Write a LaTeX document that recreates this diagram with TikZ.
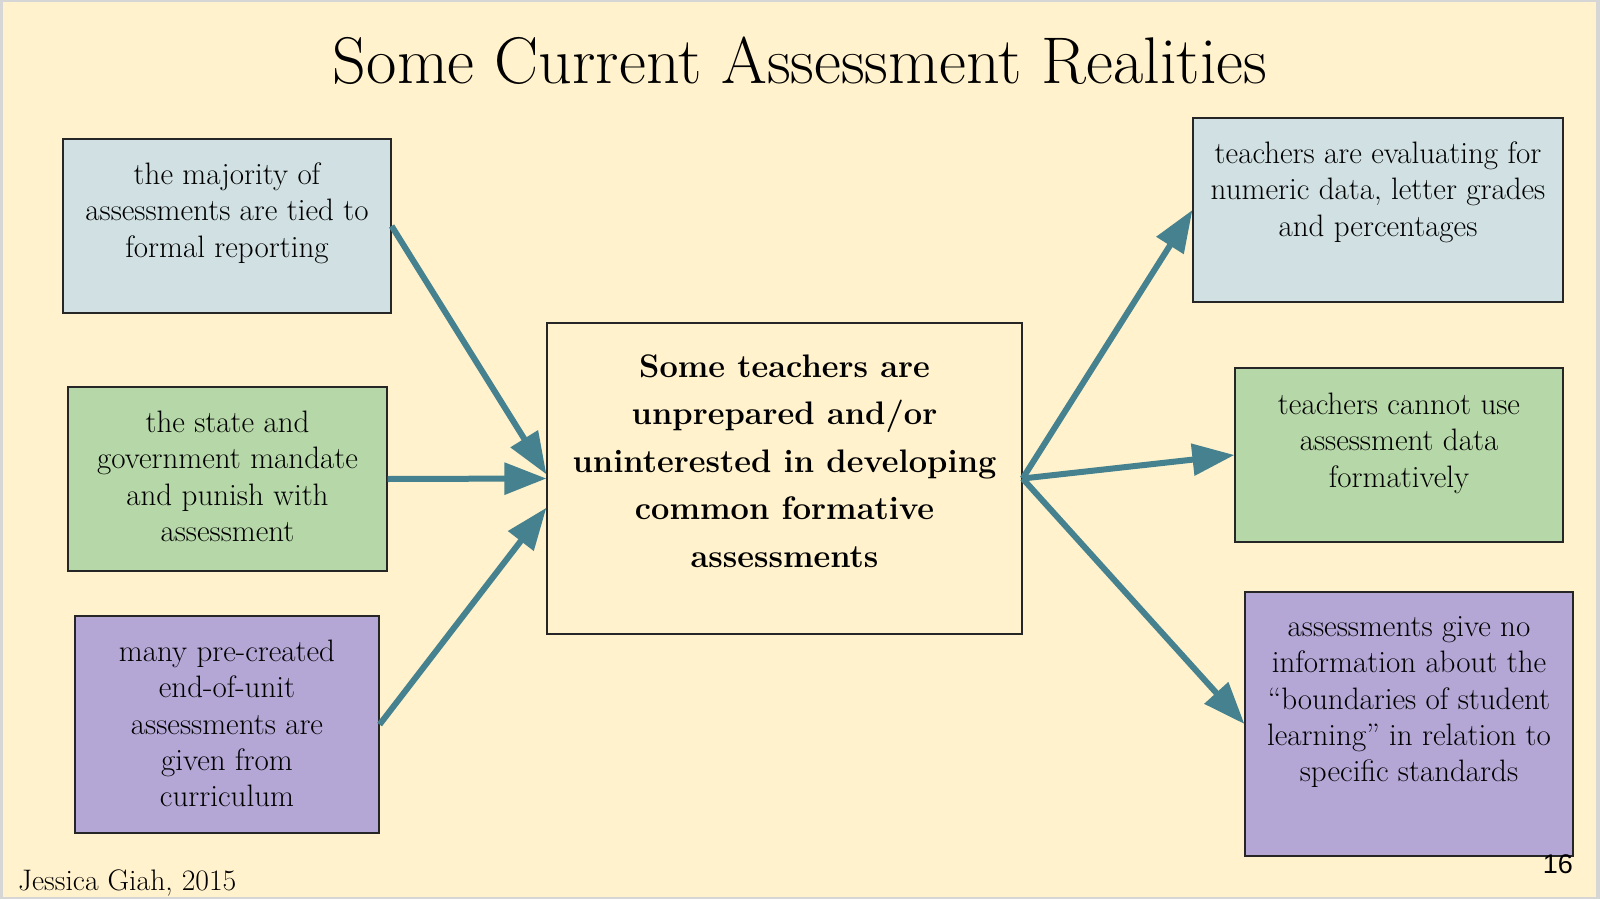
\documentclass[tikz,border=0pt]{standalone}
\usepackage{fontspec}
\newfontfamily\pagenofont{Liberation Sans}
\usetikzlibrary{arrows.meta,positioning}
\definecolor{slidebg}{HTML}{FFF2CC}
\definecolor{slideedge}{HTML}{D6D6D6}
\definecolor{paleblue}{HTML}{D0E0E3}
\definecolor{palegreen}{HTML}{B6D7A8}
\definecolor{palepurple}{HTML}{B4A7D6}
\definecolor{arrowteal}{HTML}{45818E}
\begin{document}
\begin{tikzpicture}[x=1pt,y=-1pt,
  box/.style={draw=black!85,line width=1.2pt,inner sep=0pt},
  boxtext/.style={anchor=base,align=center,inner sep=0pt,font=\fontsize{31}{36.3}\selectfont},
  flow/.style={draw=arrowteal,line width=6pt,-{Triangle[length=42pt,width=31pt]}}]
\useasboundingbox (0,0) rectangle (1600,899);
\fill[slideedge] (0,0) rectangle (1600,899);
\fill[slidebg] (3.3,1.7) rectangle (1596,897);
\node[font=\fontsize{66}{78}\selectfont,anchor=base] (title) at (800,84) {Some Current Assessment Realities};
% left column (text anchored at its last baseline)
\node[box,fill=paleblue,minimum width=328pt,minimum height=174pt] (tied) at (227,226) {};
\node[boxtext] (tiedtxt) at ([yshift=-118.6pt]tied.north) {the majority of\\assessments are tied to\\formal reporting};
\node[box,fill=palegreen,minimum width=319pt,minimum height=184pt] (mandate) at (227.5,479) {};
\node[boxtext] (mandatetxt) at ([yshift=-154.9pt]mandate.north) {the state and\\government mandate\\and punish with\\assessment};
\node[box,fill=palepurple,minimum width=304pt,minimum height=217pt] (precreated) at (227,724.5) {};
\node[boxtext] (precreatedtxt) at ([yshift=-191.2pt]precreated.north) {many pre-created\\end-of-unit\\assessments are\\given from\\curriculum};
% middle
\node[box,minimum width=475pt,minimum height=311pt] (core) at (784.5,478.5) {};
\node[boxtext,font=\bfseries\fontsize{32.6}{47.5}\selectfont] (coretxt) at ([yshift=-245pt]core.north) {Some teachers are\\unprepared and/or\\uninterested in developing\\common formative\\assessments};
% right column
\node[box,fill=paleblue,minimum width=370pt,minimum height=184pt] (numeric) at (1378,210) {};
\node[boxtext] (numerictxt) at ([yshift=-118.6pt]numeric.north) {teachers are evaluating for\\numeric data, letter grades\\and percentages};
\node[box,fill=palegreen,minimum width=328pt,minimum height=174pt] (formative) at (1399,455) {};
\node[boxtext] (formativetxt) at ([yshift=-119.6pt]formative.north) {teachers cannot use\\assessment data\\formatively};
\node[box,fill=palepurple,minimum width=328pt,minimum height=264pt] (boundaries) at (1409,724) {};
\node[boxtext] (boundariestxt) at ([yshift=-190.2pt]boundaries.north) {assessments give no\\information about the\\“boundaries of student\\learning” in relation to\\specific standards};
% arrows
\draw[flow] (tied.east) -- (core.179);
\draw[flow] (mandate.east) -- (core.west);
\draw[flow] (precreated.east) -- (core.187);
\draw[flow] (core.east) -- (numeric.west);
\draw[flow] (core.east) -- (formative.west);
\draw[flow] (core.east) -- (boundaries.west);
\node[font=\fontsize{29.7}{34}\selectfont,anchor=base west,inner sep=0pt] (credit) at (18,890) {Jessica Giah, 2015};
\node[font=\pagenofont\fontsize{27}{32}\selectfont,anchor=base east,inner sep=0pt] (pageno) at (1573,873) {16};
\end{tikzpicture}
\end{document}
